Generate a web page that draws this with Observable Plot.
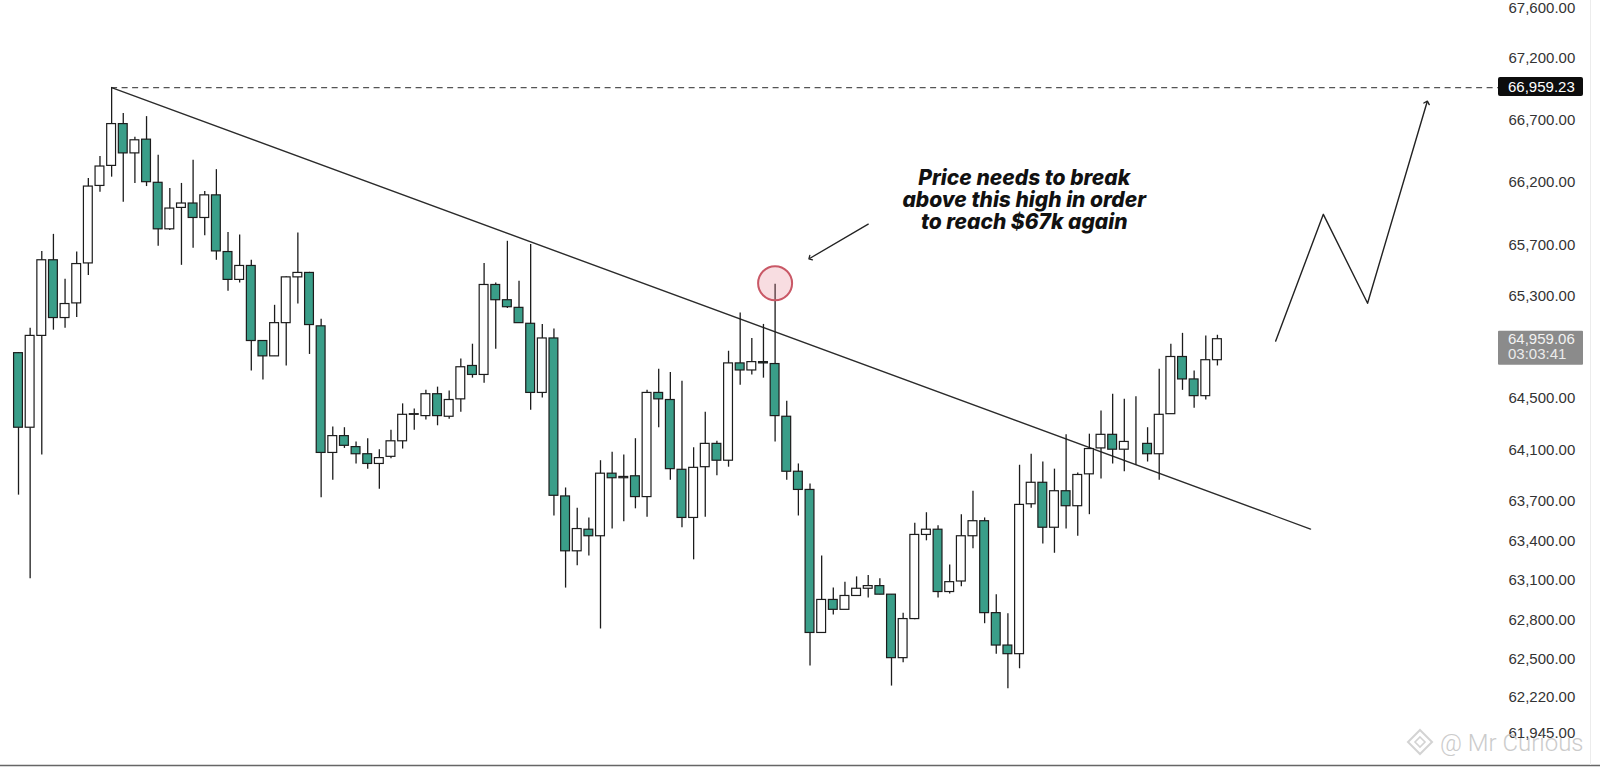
<!DOCTYPE html>
<html>
<head>
<meta charset="utf-8">
<script src="https://cdn.jsdelivr.net/npm/d3@7"></script>
<script src="https://cdn.jsdelivr.net/npm/@observablehq/plot@0.6"></script>
<style>
  html, body { margin: 0; padding: 0; background: #fff; }
  #chart svg { display: block; }
</style>
</head>
<body>
<div id="chart"></div>
<script>
// ---- data (BTC/USD candles, oldest first) ----
const open = [64850,64270,64985,65580,65125,65240,65555,66170,66330,66665,66430,66540,66195,65825,65995,66030,65915,66095,65645,65425,65535,64945,64825,65085,65445,65480,65060,64075,64205,64120,64065,63990,64045,64165,64370,64360,64530,64355,64490,64750,64680,65385,65265,65205,65080,64540,64965,63740,63320,63485,63435,63915,63880,63895,63735,64540,64485,63945,63575,63965,64145,64015,64770,64715,64780,64765,64355,63930,63790,62700,62950,62875,62980,63035,63055,62990,62510,62805,63445,63485,63010,63090,63435,63550,62850,62605,62540,63680,63845,63500,63780,63665,63910,64110,64215,64100,64160,64145,64065,64375,64820,64645,64515,64795];
const high = [64855,65045,65650,65785,65430,65645,66230,66405,66959.23,66750,66560,66725,66415,66150,66190,66375,66125,66300,65800,65780,65580,64945,65225,65450,65795,65485,65115,64275,64270,64160,64185,64100,64250,64455,64415,64560,64585,64555,64805,64920,65555,65400,65730,65415,65705,65075,65040,63805,63650,63575,64015,64080,64060,64185,64560,64725,64700,64630,64115,64390,64165,64865,65165,64965,65075,65390,64475,63990,63835,63285,63040,63085,63125,63135,63110,62990,62850,63535,63615,63515,63215,63600,63780,63575,62990,62845,63980,64065,64005,63950,64215,63920,64220,64400,64530,64490,64510,64270,64725,64920,65005,64710,64985,64990];
const low = [63750,63110,64060,65030,65045,65130,65460,66120,66240,66040,66190,66165,65690,65815,65540,65675,65775,65580,65335,65400,64710,64640,64825,64750,65235,64840,63730,63865,64110,63990,63950,63795,64030,64105,64250,64330,64285,64335,64390,64655,64615,64880,65200,65085,64405,64500,63590,63040,63210,63285,62730,63490,63545,63645,63580,64270,63865,63500,63255,63580,63900,63965,64600,64680,64655,64160,63865,63590,62450,62700,62835,62875,62980,62965,62990,62300,62475,62800,63400,62965,62995,63050,63340,62770,62540,62280,62430,63650,63375,63305,63490,63435,63600,63875,63990,63930,63980,64005,63865,64375,64560,64420,64485,64750];
const close = [64270,64985,65580,65125,65235,65550,66165,66325,66665,66430,66535,66200,65825,65990,66030,65915,66095,65650,65425,65535,64945,64825,65085,65445,65480,65070,64075,64205,64130,64065,63990,64035,64165,64370,64375,64530,64360,64485,64740,64680,65385,65265,65210,65085,64540,64965,63745,63320,63490,63435,63915,63880,63890,63735,64540,64490,63950,63575,63960,64145,64015,64770,64715,64780,64770,64360,63930,63790,62700,62950,62875,62980,63035,63055,62990,62510,62805,63445,63485,63010,63085,63435,63550,62850,62605,62540,63675,63845,63500,63780,63665,63905,64105,64215,64100,64160,64160,64065,64370,64820,64645,64515,64795,64959.06];

// axis ticks as printed on the price scale
const yTicks = [67600,67200,66700,66200,65700,65300,64500,64100,63700,63400,63100,62800,62500,62220,61945];
const swingHigh = 66959.23;       // dashed level
const lastPrice = 64959.06;       // current price label
const countdown = "03:03:41";

// drawn annotations (candle index, price)
const trendIdx = [9, 112.0];
const trendPrice = [66959.23, 63490];
const zigIdx = [109.0, 113.1, 116.9, 122.0];
const zigPrice = [64944, 65944, 65241, 66839];
const ptrIdx = [74.0, 69.0];
const ptrPrice = [65866, 65596];
const circleIdx = 66, circlePrice = 65399;
const noteIdx = 87.4, notePrice = 66060;
const noteText = "Price needs to break\nabove this high in order\nto reach $67k again";
const watermark = "@ Mr Curious";

// ---- build tables ----
const candles = open.map((o, k) => ({i: k + 1, open: o, high: high[k], low: low[k], close: close[k]}));
const trend = trendIdx.map((v, k) => ({i: v, p: trendPrice[k]}));
const zig = zigIdx.map((v, k) => ({i: v, p: zigPrice[k]}));
const ptr = ptrIdx.map((v, k) => ({i: v, p: ptrPrice[k]}));

const W = 1600, H = 767, plotRight = 1500;
const step = 11.64;
const xDomain = [1 - 18 / step, 1 - 18 / step + plotRight / step];
const teal = "#3a9e89";
const ink = "#1c1c1c";
const fmt = d3.format(",.2f");

const chart = Plot.plot({
  width: W,
  height: H,
  marginLeft: 0,
  marginRight: W - plotRight,
  marginTop: 0,
  marginBottom: 0,
  style: {fontFamily: "'Liberation Sans', Arial, sans-serif", fontSize: "15px", color: "#333", background: "#fff"},
  x: {type: "linear", domain: xDomain, range: [0, plotRight], axis: null},
  y: {type: "log", domain: [61945, 67600], range: [733, 8]},
  marks: [
    Plot.ruleY([swingHigh], {x1: 9, x2: xDomain[1], stroke: "#555", strokeWidth: 1.2, strokeDasharray: "6,4.5"}),
    Plot.line(trend, {x: "i", y: "p", stroke: "#2b2b2b", strokeWidth: 1.4}),
    Plot.ruleX(candles, {x: "i", y1: "low", y2: "high", stroke: ink, strokeWidth: 1.3}),
    Plot.rect(candles, {
      x1: d => d.i - 0.38, x2: d => d.i + 0.38,
      y1: "open", y2: "close",
      fill: d => d.close < d.open ? teal : "#ffffff",
      stroke: ink, strokeWidth: 1.2
    }),
    Plot.dot([{i: circleIdx, p: circlePrice}], {x: "i", y: "p", r: 17, fill: "rgba(226,120,135,0.25)", stroke: "#c95866", strokeWidth: 2}),
    Plot.line(zig, {x: "i", y: "p", stroke: "#222", strokeWidth: 1.4, markerEnd: "arrow"}),
    Plot.line(ptr, {x: "i", y: "p", stroke: "#222", strokeWidth: 1.3, markerEnd: "arrow"}),
    Plot.text([noteText], {
      x: noteIdx, y: notePrice, text: d => d,
      fontSize: 21, fontWeight: 800, fontStyle: "italic",
      fontFamily: "Inter, 'Open Sans', sans-serif",
      fill: "#111", textAnchor: "middle", lineAnchor: "middle", lineHeight: 1.04
    }),
    Plot.axisY(yTicks, {anchor: "right", tickSize: 0, tickPadding: 8, tickFormat: fmt, label: null, fill: "#333", fontSize: 15})
  ]
});

document.getElementById("chart").appendChild(chart);

// ---- price-scale labels and frame drawn from the y scale ----
const ys = chart.scale("y");
const svg = d3.select(chart);
const extra = svg.append("g")
  .attr("font-family", "'Liberation Sans', Arial, sans-serif")
  .attr("font-size", 15)
  .attr("text-anchor", "start");

const yHigh = ys.apply(swingHigh);
extra.append("rect").attr("x", 1498).attr("y", yHigh - 10).attr("width", 85).attr("height", 19).attr("rx", 2).attr("fill", "#0d0d0d");
extra.append("text").attr("x", 1508).attr("y", yHigh).attr("dy", "0.36em").attr("fill", "#fff").text(fmt(swingHigh));

const yLast = ys.apply(lastPrice);
extra.append("rect").attr("x", 1498).attr("y", yLast - 8).attr("width", 85).attr("height", 34).attr("rx", 1).attr("fill", "#8b8b8b");
extra.append("text").attr("x", 1508).attr("y", yLast).attr("dy", "0.36em").attr("fill", "#f2f2f2").text(fmt(lastPrice));
extra.append("text").attr("x", 1508).attr("y", yLast + 15).attr("dy", "0.36em").attr("fill", "#ececec").text(countdown);

// frame lines
svg.append("line").attr("x1", 0).attr("x2", W).attr("y1", 765.5).attr("y2", 765.5).attr("stroke", "#666").attr("stroke-width", 1.5);
svg.append("line").attr("x1", 1590.5).attr("x2", 1590.5).attr("y1", 0).attr("y2", 765).attr("stroke", "#ececec").attr("stroke-width", 1);

// watermark
const wm = svg.append("g").attr("opacity", 0.9).attr("text-anchor", "start");
wm.append("path").attr("d", "M1420,730 L1432,742 L1420,754 L1408,742 Z").attr("fill", "none").attr("stroke", "#cfcfcf").attr("stroke-width", 2);
wm.append("path").attr("d", "M1420,737 L1425,742 L1420,747 L1415,742 Z").attr("fill", "none").attr("stroke", "#cfcfcf").attr("stroke-width", 1.6);
wm.append("text").attr("x", 1440).attr("y", 751).attr("font-family", "Roboto, 'Noto Sans', sans-serif").attr("font-weight", 300).attr("font-size", 24).attr("fill", "#c6c6c6").text(watermark);
</script>
</body>
</html>
